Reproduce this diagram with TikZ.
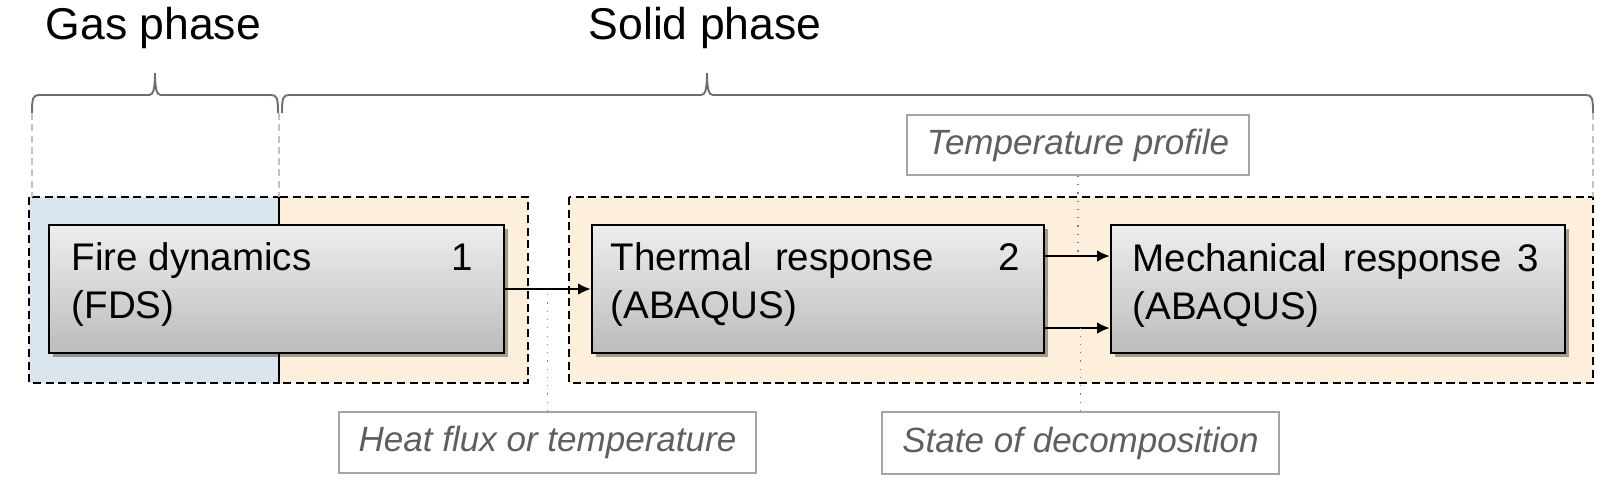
\documentclass[tikz,border=0pt]{standalone}
\usepackage{fontspec}
\setmainfont{Liberation Sans}
\usetikzlibrary{arrows.meta,shadows,fit}
\definecolor{gasblue}{RGB}{219,229,238}
\definecolor{solidorange}{RGB}{253,239,220}
\definecolor{boxtop}{RGB}{238,238,238}
\definecolor{boxbot}{RGB}{188,188,188}
\definecolor{lblgray}{RGB}{95,95,95}
\definecolor{lblborder}{RGB}{165,165,165}
\definecolor{bracegray}{RGB}{110,110,110}
\definecolor{guidegray}{RGB}{195,195,195}
\begin{document}
\begin{tikzpicture}[x=0.01cm,y=-0.01cm,
 region/.style={draw=black, line width=0.55pt, dash pattern=on 2.3pt off 1.3pt},
 modbox/.style={draw=black, line width=0.75pt, top color=boxtop, bottom color=boxbot, inner sep=0pt,
   drop shadow={shadow xshift=1.1pt, shadow yshift=-1.1pt, opacity=0.35, fill=black}},
 modtext/.style={font=\fontsize{10.95pt}{13pt}\selectfont, inner sep=0pt},
 lbl/.style={draw=lblborder, line width=0.5pt, fill=white, text=lblgray,
   font=\fontsize{9.96pt}{12pt}\selectfont\itshape, inner sep=0pt},
 flow/.style={draw=black, line width=0.5pt, -{Latex[length=3.6pt,width=3.3pt]}},
 tap/.style={draw=gray, line width=0.35pt, dotted},
 guide/.style={draw=guidegray, line width=0.4pt, dash pattern=on 2pt off 1.2pt},
 bracepath/.style={draw=bracegray, line width=0.55pt},
 title/.style={font=\fontsize{12.66pt}{15pt}\selectfont, inner sep=0pt, anchor=base west}]

\useasboundingbox (0,0) rectangle (1607,481);

% titles
\node[title] (gastitle) at (45,39) {Gas phase};
\node[title] (solidtitle) at (588,39) {Solid phase};

% braces
\coordinate (b1l) at (32,113);
\coordinate (b1r) at (278,113);
\coordinate (b2l) at (282,113);
\coordinate (b2r) at (1593,113);
\draw[bracepath] (b1l) .. controls (32,98) and (33,95) .. (39,95) -- (149,95)
  .. controls (153,95) and (155,90) .. (155,73) .. controls (155,90) and (157,95) .. (161,95)
  -- (271,95) .. controls (277,95) and (278,98) .. (b1r);
\draw[bracepath] (b2l) .. controls (282,98) and (283,95) .. (289,95) -- (701,95)
  .. controls (705,95) and (707,90) .. (707,73) .. controls (707,90) and (709,95) .. (713,95)
  -- (1586,95) .. controls (1592,95) and (1593,98) .. (b2r);

% regions
\fill[gasblue] (29,197) rectangle (279,383);
\fill[solidorange] (279,197) rectangle (528,383);
\fill[solidorange] (569,197) rectangle (1593,383);
\draw[region] (29,197) rectangle (279,383);
\draw[region] (279,197) rectangle (528,383);
\draw[region] (569,197) rectangle (1593,383);

% guides
\coordinate (g1) at (32,197);
\coordinate (g2) at (279,197);
\coordinate (g3) at (1593,197);
\draw[guide] (b1l) -- (g1);
\draw[guide] (279,113) -- (g2);
\draw[guide] (b2r) -- (g3);

% module boxes
\node[modbox, fit={(49,225)(504,353)}] (fire) {};
\node[modbox, fit={(592,225)(1044,353)}] (thermal) {};
\node[modbox, fit={(1111,225)(1565,353)}] (mech) {};

\node[modtext, anchor=base west] (fireA) at (71,270) {Fire dynamics};
\node[modtext, anchor=base west] (fireB) at (71,318) {(FDS)};
\node[modtext, anchor=base east] (fireN) at (474,270) {1};

\node[modtext, anchor=base west] (thA) at (610,270) {Thermal\hspace{6.6pt}response};
\node[modtext, anchor=base west] (thB) at (610,318) {(ABAQUS)};
\node[modtext, anchor=base east] (thN) at (1021,270) {2};

\node[modtext, anchor=base west] (meA) at (1132,271) {Mechanical\hspace{4.5pt}response};
\node[modtext, anchor=base west] (meB) at (1132,319) {(ABAQUS)};
\node[modtext, anchor=base east] (meN) at (1540,271) {3};

% arrows
\coordinate (tpy) at (0,256);
\coordinate (sdy) at (0,328);
\draw[flow] (fire.east) -- (thermal.west);
\draw[flow] (thermal.east |- tpy) -- (mech.west |- tpy);
\draw[flow] (thermal.east |- sdy) -- (mech.west |- sdy);

% labels
\node[lbl, minimum width=4.17cm, minimum height=0.61cm] (heat) at (547.5,442.5) {Heat flux or temperature};
\node[lbl, minimum width=3.42cm, minimum height=0.60cm] (temp) at (1078,145) {Temperature profile};
\node[lbl, minimum width=3.97cm, minimum height=0.62cm] (state) at (1080.5,443) {State of decomposition};

\draw[tap] (heat.north) -- (heat.north |- fire.east);
\draw[tap] (temp.south) -- (temp.south |- tpy);
\draw[tap] (state.north) -- (state.north |- sdy);
\end{tikzpicture}
\end{document}
